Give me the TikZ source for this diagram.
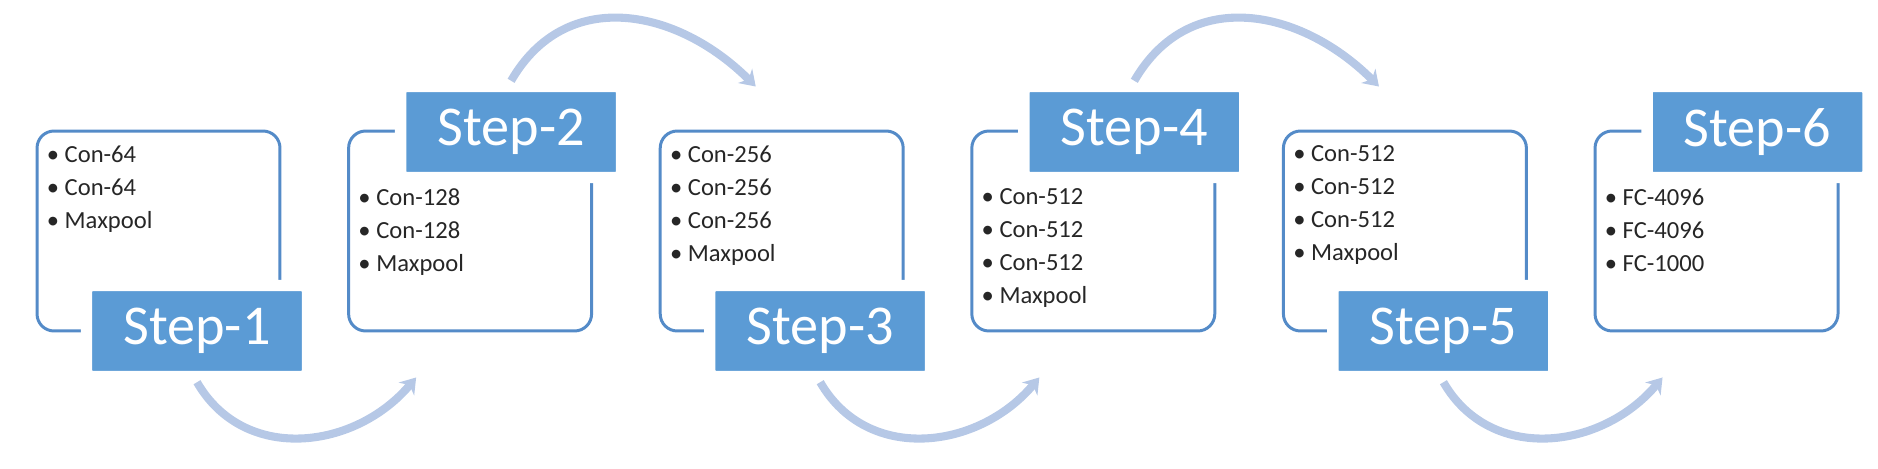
\documentclass[tikz,border=0pt]{standalone}
\usepackage{fontspec}
\setmainfont{Carlito}
\usetikzlibrary{arrows.meta,positioning}
\definecolor{StepBlue}{RGB}{91,155,213}
\definecolor{EdgeBlue}{RGB}{84,139,200}
\definecolor{ArcBlue}{RGB}{182,200,230}

\begin{document}
\begin{tikzpicture}[x=0.02cm, y=-0.02cm,
    stepbox/.style={draw=EdgeBlue, line width=1.7pt, rounded corners=0.34cm,
        minimum width=4.86cm, minimum height=4cm, inner sep=0pt},
    steplabel/.style={fill=StepBlue, draw=white, line width=6.5pt, rounded corners=0.1cm,
        minimum width=4.42cm, minimum height=1.82cm, inner sep=0pt,
        text=white, font=\fontsize{32}{38}\selectfont},
    itemlist/.style={align=left, inner sep=0pt, text=black!85, font=\fontsize{14}{18.7}\selectfont},
    flow/.style={ArcBlue, line width=4.6pt, -{Stealth[length=0.3cm, width=0.4cm]}}]

    % Page size (pixels of the original)
    \useasboundingbox (0,0) rectangle (1878,469);

    % Six step boxes, labels alternate bottom / top
    \foreach \i in {1,...,6} {
        \pgfmathsetmacro{\bx}{37+311.6*(\i-1)}
        \node[stepbox] (box\i) at (\bx+121.5,231) {};
        \ifodd\i
            \node[steplabel] (lab\i) at (\bx+160,331) {Step-\i};
        \else
            \node[steplabel] (lab\i) at (\bx+162.5,132) {Step-\i};
        \fi
    }

    % Layer lists
    \node[itemlist, below right=0.32cm and 0.22cm of box1.north west] (list1)
        {\textbullet\ Con-64\\ \textbullet\ Con-64\\ \textbullet\ Maxpool};
    \node[itemlist, below right=1.18cm and 0.22cm of box2.north west] (list2)
        {\textbullet\ Con-128\\ \textbullet\ Con-128\\ \textbullet\ Maxpool};
    \node[itemlist, below right=0.32cm and 0.22cm of box3.north west] (list3)
        {\textbullet\ Con-256\\ \textbullet\ Con-256\\ \textbullet\ Con-256\\ \textbullet\ Maxpool};
    \node[itemlist, below right=1.18cm and 0.22cm of box4.north west] (list4)
        {\textbullet\ Con-512\\ \textbullet\ Con-512\\ \textbullet\ Con-512\\ \textbullet\ Maxpool};
    \node[itemlist, below right=0.32cm and 0.22cm of box5.north west] (list5)
        {\textbullet\ Con-512\\ \textbullet\ Con-512\\ \textbullet\ Con-512\\ \textbullet\ Maxpool};
    \node[itemlist, below right=1.18cm and 0.22cm of box6.north west] (list6)
        {\textbullet\ FC-4096\\ \textbullet\ FC-4096\\ \textbullet\ FC-1000};

    % Curved arrows below (odd -> even)
    \foreach \i/\j in {1/2,3/4,5/6} {
        \coordinate (tip\j) at ([shift={(69,45)}]box\j.south west);
        \draw[flow, looseness=1.1] (lab\i.south) to[out=-60, in=-130] (tip\j);
    }

    % Curved arrows above (even -> odd)
    \foreach \i/\j in {2/3,4/5} {
        \coordinate (tip\j) at ([shift={(97,-43)}]box\j.north west);
        \draw[flow, looseness=1.15] (lab\i.north) to[out=60, in=135] (tip\j);
    }
\end{tikzpicture}
\end{document}
